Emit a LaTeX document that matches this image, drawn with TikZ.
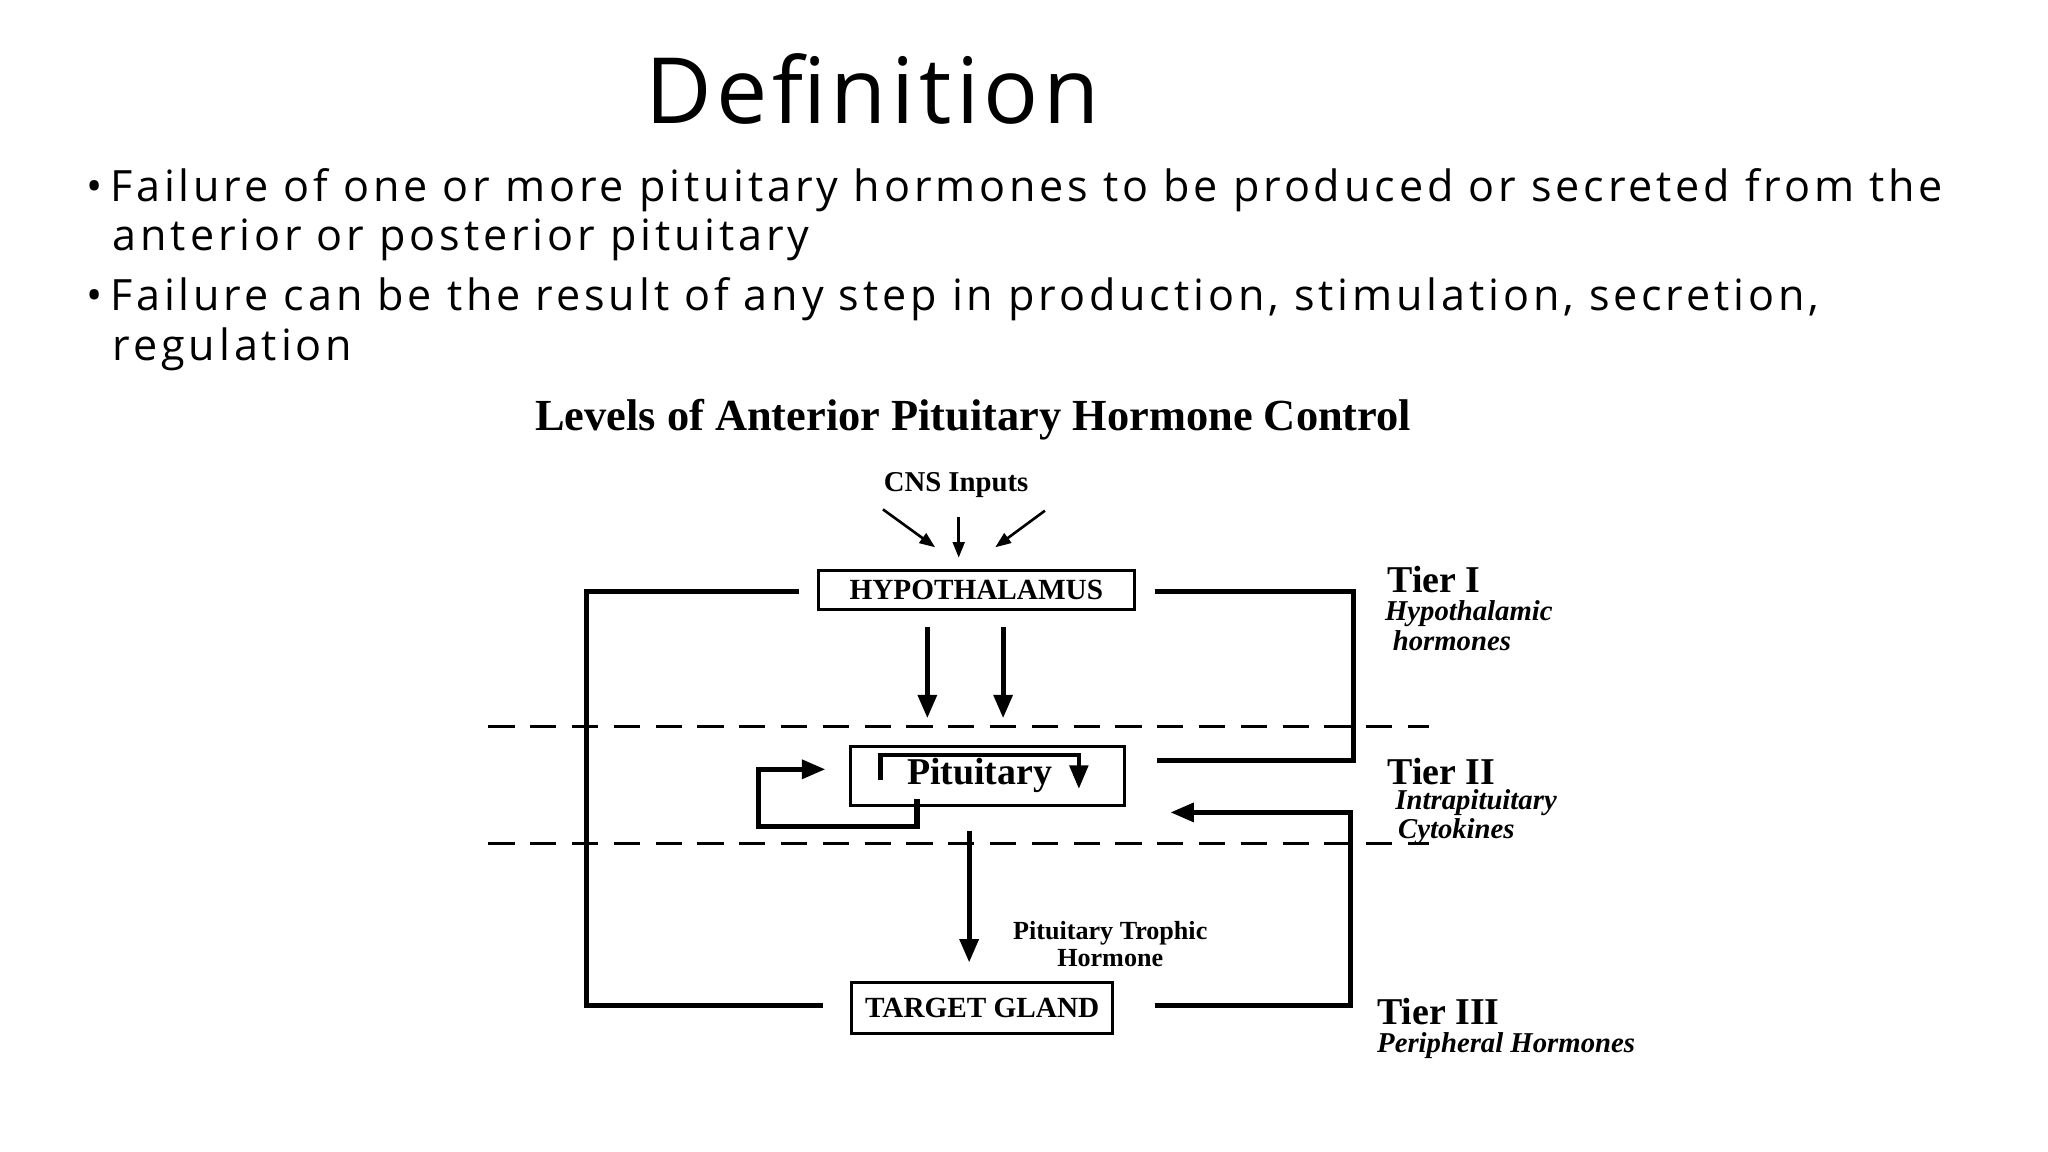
\documentclass[tikz,border=0pt]{standalone}
\usepackage{fontspec}
\setmainfont{Liberation Serif}
\newfontfamily\osans[LetterSpace=9]{Open Sans}
\newfontfamily\osanst[LetterSpace=5]{Open Sans}
\usetikzlibrary{arrows.meta}
\begin{document}
\begin{tikzpicture}[x=0.5pt,y=-0.5pt,
  box/.style={draw,line width=1.2pt,minimum height=15pt,inner sep=0pt,font=\bfseries\fontsize{11.2}{13}\selectfont},
  thick line/.style={line width=2pt},
  arr/.style={line width=2pt,-{Triangle[length=9pt,width=7pt]}},
  thin arr/.style={line width=1pt,-{Triangle[length=6pt,width=4.5pt]}},
  bul/.style={anchor=base west,inner sep=0pt,font=\osans\fontsize{16.5}{19}\selectfont},
  lab/.style={anchor=base west,inner sep=0pt,font=\bfseries\itshape\fontsize{11}{13}\selectfont},
  tier/.style={anchor=base west,inner sep=0pt,font=\bfseries\fontsize{14.5}{16}\selectfont}]
\useasboundingbox (0,0) rectangle (1568,882);
\node (title) at (668,68) {\osanst\fontsize{35}{40}\selectfont Definition};
\node[bul] (b1) at (66,154) {•\,Failure of one or more pituitary hormones to be produced or secreted from the};
\node[bul] (b1b) at (86,192) {anterior or posterior pituitary};
\node[bul] (b2) at (66,238) {•\,Failure can be the result of any step in production, stimulation, secretion,};
\node[bul] (b2b) at (86,276) {regulation};
\node (dt) at (745,321) {\bfseries\fontsize{17}{19}\selectfont Levels of Anterior Pituitary Hormone Control};
\node (cns) at (732,371) {\bfseries\fontsize{11}{13}\selectfont CNS Inputs};
\coordinate (c1) at (676,390); \coordinate (c1e) at (716,419);
\coordinate (c2) at (734,396); \coordinate (c2e) at (734,427);
\coordinate (c3) at (800,391); \coordinate (c3e) at (762,419);
\draw[thin arr] (c1) -- (c1e); \draw[thin arr] (c2) -- (c2e); \draw[thin arr] (c3) -- (c3e);
\node[box,minimum width=121pt] (hyp) at (747.5,451.5) {HYPOTHALAMUS};
\node[box,minimum width=105pt,minimum height=22.5pt,font=\bfseries\fontsize{14.5}{16}\selectfont] (pit) at (756,594) {\hspace*{-6pt}Pituitary};
\node[box,minimum width=100pt,minimum height=19.5pt] (tg) at (752,771.5) {TARGET GLAND};
\draw[thick line] (612,453) -- (449,453) -- (449,770) -- (630,770);
\draw[thick line] (884,453) -- (1036,453) -- (1036,582) -- (886,582);
\draw[arr] (884,770) -- (1034,770) -- (1034,622) -- (896,622);
\draw[arr] (710,480) -- (710,550);
\draw[arr] (768,480) -- (768,550);
\draw[dashed,line width=1pt,dash pattern=on 10pt off 6pt] (374,556) -- (1094,556);
\draw[dashed,line width=1pt,dash pattern=on 10pt off 6pt] (374,646) -- (1094,646);
\draw[arr,line width=1.7pt] (674,597) -- (674,578) -- (826,578) -- (826,604);
\draw[arr] (702,612) -- (702,633) -- (581,633) -- (581,589) -- (632,589);
\draw[arr] (742,636) -- (742,737);
\node[align=center,font=\bfseries\fontsize{10}{10.5}\selectfont] (pth) at (850,723) {Pituitary Trophic\\Hormone};
\node[tier] (t1) at (1062,454) {Tier I};
\node[lab] (t1a) at (1060,475) {Hypothalamic};
\node[lab] (t1b) at (1066,498) {hormones};
\node[tier] (t2) at (1062,601) {Tier II};
\node[lab] (t2a) at (1068,620) {Intrapituitary};
\node[lab] (t2b) at (1070,642) {Cytokines};
\node[tier] (t3) at (1054,784) {Tier III};
\node[lab] (t3a) at (1054,806) {Peripheral Hormones};
\end{tikzpicture}
\end{document}
